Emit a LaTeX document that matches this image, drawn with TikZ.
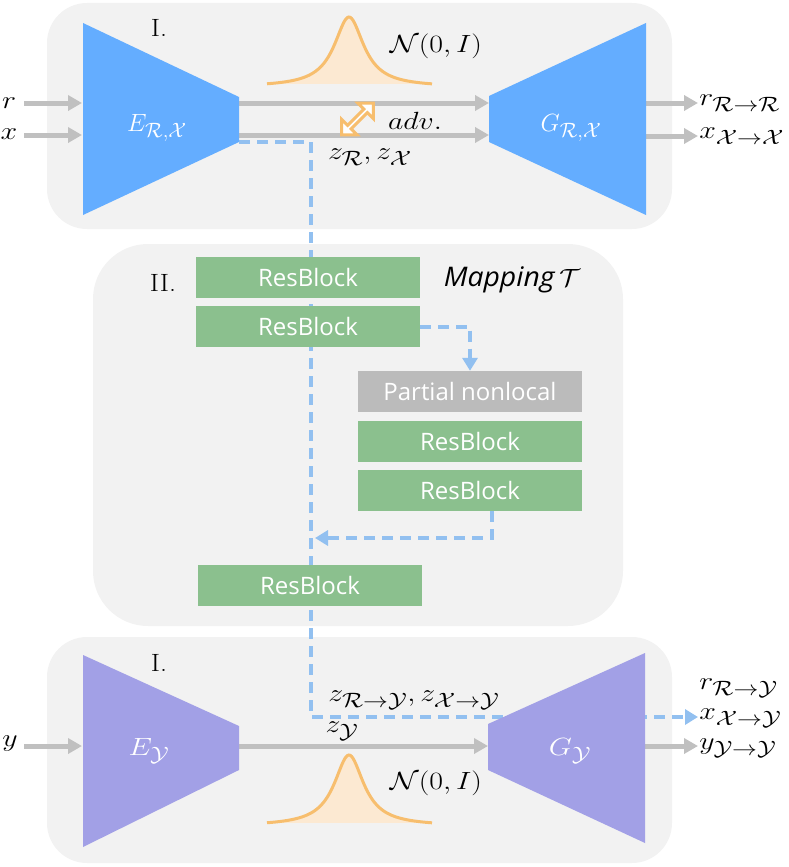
\documentclass[tikz,border=0pt]{standalone}
\usepackage{fontspec}
\newfontfamily\blockfont{Open Sans}
\usetikzlibrary{arrows.meta,shapes.arrows}
\definecolor{panel}{RGB}{242,242,242}
\definecolor{encblue}{RGB}{100,173,255}
\definecolor{encpurple}{RGB}{162,160,230}
\definecolor{resgreen}{RGB}{139,192,142}
\definecolor{pngray}{RGB}{187,187,187}
\definecolor{arrgray}{RGB}{192,192,192}
\definecolor{dashblue}{RGB}{146,192,240}
\definecolor{gaussorange}{RGB}{247,190,110}
\definecolor{gaussfill}{RGB}{252,233,210}
\begin{document}
\begin{tikzpicture}[x=1pt,y=-1pt,
  panelbox/.style={fill=panel},
  grayarrow/.style={draw=arrgray, line width=5pt, -{Triangle[length=14pt,width=15pt]}},
  dashline/.style={draw=dashblue, line width=4pt, dash pattern=on 11pt off 7pt},
  dashtip/.style={-{Triangle[length=13pt,width=15pt]}},
  block/.style={minimum width=224pt, minimum height=41pt, inner sep=0pt, text=white,
    font=\blockfont\fontsize{24}{28}\selectfont},
  resblock/.style={block, fill=resgreen},
  pnblock/.style={block, fill=pngray},
  mathlbl/.style={inner sep=0pt, font=\fontsize{30}{36}\selectfont, xscale=1.2},
  enclbl/.style={inner sep=0pt, text=white, font=\fontsize{28}{33}\selectfont},
  romlbl/.style={inner sep=0pt, font=\fontsize{25}{30}\selectfont, xscale=1.12},
  gausscurve/.style={draw=gaussorange, line width=3pt},
]
\useasboundingbox (0,0) rectangle (788,867);

% panels
\fill[panelbox, rounded corners=40pt] (47,3) rectangle (672,229);
\fill[panelbox, rounded corners=55pt] (93,244) rectangle (623,626);
\fill[panelbox, rounded corners=40pt] (47,637) rectangle (672,863);

% gaussians
\fill[gaussfill] plot[domain=267:432,samples=120] (\x,{87-70/(1+((\x-349)/18)^2)}) -- cycle;
\draw[gausscurve] plot[domain=267:432,samples=120] (\x,{87-70/(1+((\x-349)/18)^2)});
\fill[gaussfill] plot[domain=267:432,samples=120] (\x,{826-71/(1+((\x-349)/18)^2)}) -- cycle;
\draw[gausscurve] plot[domain=267:432,samples=120] (\x,{826-71/(1+((\x-349)/18)^2)});

% coordinates
\coordinate (rin) at (24,103);
\coordinate (xin) at (24,135);
\coordinate (Ein1) at (82,103);
\coordinate (Ein2) at (82,135);
\coordinate (Eout1) at (239,103);
\coordinate (Eout2) at (239,135);
\coordinate (Edash) at (239,142);
\coordinate (Gin1) at (489,103);
\coordinate (Gin2) at (489,135);
\coordinate (Gout1) at (646,103);
\coordinate (Gout2) at (646,136);
\coordinate (rout) at (698,103);
\coordinate (xout) at (698,136);
\coordinate (turn) at (311,142);
\coordinate (yin) at (24,746);
\coordinate (EYin) at (82,746);
\coordinate (EYout) at (239,746);
\coordinate (GYin) at (488,746);
\coordinate (GYout) at (645,746);
\coordinate (yout) at (698,746);
\coordinate (xyout) at (698,717);
\coordinate (merge) at (315,538);

% gray arrows
\draw[grayarrow] (rin) -- (Ein1);
\draw[grayarrow] (xin) -- (Ein2);
\draw[grayarrow] (Eout1) -- (Gin1);
\draw[grayarrow] (Eout2) -- (Gin2);
\draw[grayarrow] (Gout1) -- (rout);
\draw[grayarrow] (Gout2) -- (xout);
\draw[grayarrow] (yin) -- (EYin);
\draw[grayarrow] (EYout) -- (GYin);
\draw[grayarrow] (GYout) -- (yout);

% main dashed path
\draw[dashline, dashtip] (Edash) -- (turn) |- (xyout);

% blocks
\node[resblock] (rb1) at (308,277) {ResBlock};
\node[resblock] (rb2) at (308,326.5) {ResBlock};
\node[pnblock] (pn) at (470,391.5) {Partial nonlocal};
\node[resblock] (rb3) at (470,441) {ResBlock};
\node[resblock] (rb4) at (470,490.5) {ResBlock};
\node[resblock] (rb5) at (310,585.5) {ResBlock};

\draw[dashline, dashtip] (rb2.east) -| (pn.north);
\draw[dashline, dashtip] ([xshift=22pt]rb4.south) |- (merge);

% trapezoids
\fill[encblue] (83,23) -- (239,97) -- (239,142) -- (83,215) -- cycle;
\fill[encblue] (489,96) -- (646,23) -- (646,215) -- (489,142) -- cycle;
\fill[encpurple] (83,655) -- (239,726) -- (239,770) -- (83,847) -- cycle;
\fill[encpurple] (488,724) -- (645,653) -- (645,843) -- (488,770) -- cycle;

% adv double arrow
\node[double arrow, draw=gaussorange, fill=white, line width=3pt, minimum height=45pt,
  minimum width=22pt, double arrow head extend=5pt, inner sep=0pt, rotate=45] (adv) at (357.5,119) {};

% labels
\node[enclbl] (Elbl) at (157,128) {$E_{\mathcal{R},\mathcal{X}}$};
\node[enclbl] (Glbl) at (571,128) {$G_{\mathcal{R},\mathcal{X}}$};
\node[mathlbl, text=white] (EYlbl) at (149,751) {$E_{\mathcal{Y}}$};
\node[mathlbl, text=white] (GYlbl) at (570,751) {$G_{\mathcal{Y}}$};

\node[mathlbl] (rlbl) at (9,103) {$r$};
\node[mathlbl] (xlbl) at (9,134) {$x$};
\node[mathlbl] (ylbl) at (10,744) {$y$};

\node[mathlbl, anchor=west] (rrr) at (699,103) {$r_{\mathcal{R}\to\mathcal{R}}$};
\node[mathlbl, anchor=west] (xxx) at (699,136) {$x_{\mathcal{X}\to\mathcal{X}}$};
\node[mathlbl, anchor=west] (rry) at (699,688) {$r_{\mathcal{R}\to\mathcal{Y}}$};
\node[mathlbl, anchor=west] (xxy) at (699,718) {$x_{\mathcal{X}\to\mathcal{Y}}$};
\node[mathlbl, anchor=west] (yyy) at (699,748) {$y_{\mathcal{Y}\to\mathcal{Y}}$};

\node[mathlbl] (n1) at (436,46) {$\mathcal{N}(0,I)$};
\node[mathlbl] (n2) at (436,783) {$\mathcal{N}(0,I)$};
\node[mathlbl] (advlbl) at (415,121) {$adv.$};
\node[mathlbl] (zlbl) at (370,157) {$z_{\mathcal{R}},z_{\mathcal{X}}$};
\node[mathlbl] (zylbl) at (414,700) {$z_{\mathcal{R}\to\mathcal{Y}},z_{\mathcal{X}\to\mathcal{Y}}$};
\node[mathlbl] (zy) at (342,731) {$z_{\mathcal{Y}}$};

\node[romlbl] (I1) at (159,28) {I.};
\node[romlbl] (I2) at (159,663) {I.};
\node[romlbl] (II) at (163,283) {II.};
\node[inner sep=0pt, font=\blockfont\itshape\fontsize{27}{32}\selectfont, xscale=1.05] (map) at (512,280) {Mapping\,$\mathcal{T}$};
\end{tikzpicture}
\end{document}
